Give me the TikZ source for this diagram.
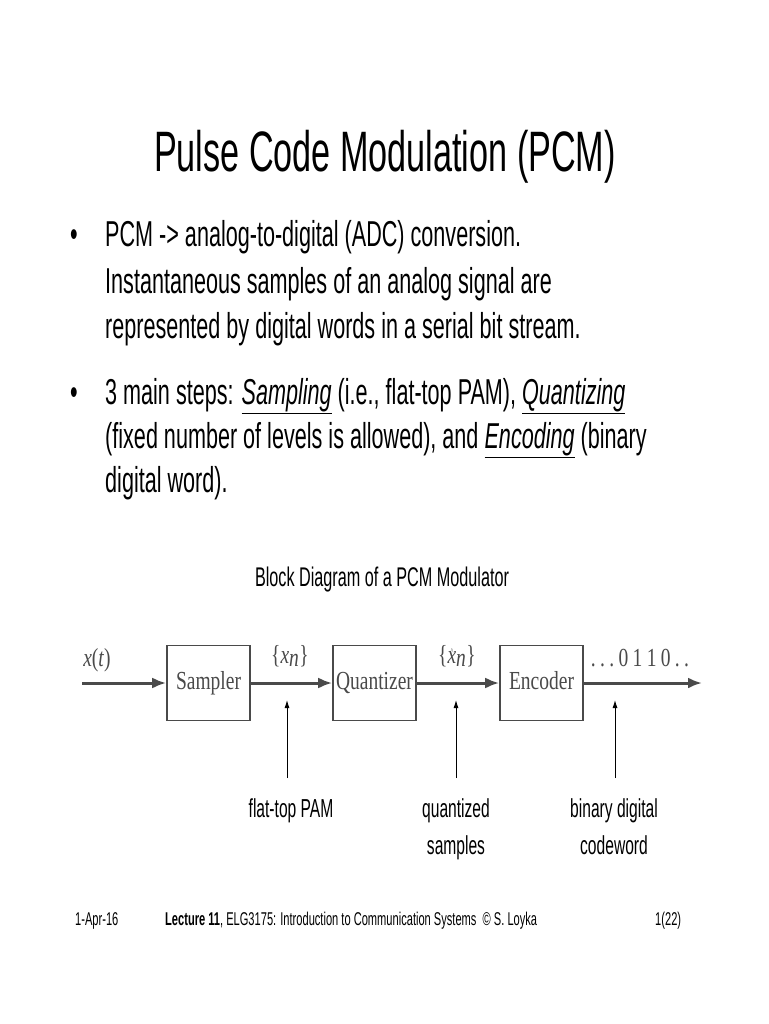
\documentclass[tikz,border=0pt]{standalone}
\usepackage{fontspec}
\setmainfont{Liberation Sans}[FakeStretch=0.6]
\newfontfamily\serf{Liberation Serif}[FakeStretch=0.75]
\usetikzlibrary{arrows.meta}
\definecolor{dg}{HTML}{4a4a4a}
\begin{document}
\begin{tikzpicture}[x=1pt,y=-1pt,
  txt/.style={anchor=base west,inner sep=0pt,font=\fontsize{36}{40}\selectfont},
  blk/.style={draw=dg,line width=1.6pt,minimum width=83pt,minimum height=75pt,inner sep=0pt,text=dg,text height=17pt,text depth=5pt,font=\serf\fontsize{26}{28}\selectfont},
  sig/.style={draw=dg,line width=3pt,-{Latex[length=14pt,width=11pt]}},
  pt/.style={draw=black,line width=0.9pt,-{Latex[length=8pt,width=5pt]}},
  lab/.style={inner sep=0pt,text=dg,font=\serf\fontsize{26}{28}\selectfont},
  capt/.style={inner sep=0pt,align=center,font=\fontsize{26}{37}\selectfont},
  ft/.style={anchor=base west,inner sep=0pt,font=\fontsize{18.5}{20}\selectfont}]
\useasboundingbox[fill=white] (0,0) rectangle (768,1024);
\node[anchor=base,inner sep=0pt,font=\fontsize{57}{60}\selectfont] (title) at (385,172) {Pulse Code Modulation (PCM)};
\node[txt] (b1) at (70,247) {•};
\node[txt] (l1) at (105,247) {PCM -> analog-to-digital (ADC) conversion.};
\node[txt] (l2) at (105,293) {Instantaneous samples of an analog signal are};
\node[txt] (l3) at (105,338) {represented by digital words in a serial bit stream.};
\node[txt] (b2) at (70,404) {•};
\node[txt] (l4) at (105,404) {3 main steps: \underline{\textit{Sampling}} (i.e., flat-top PAM), \underline{\textit{Quantizing}}};
\node[txt] (l5) at (105,448) {(fixed number of levels is allowed), and \underline{\textit{Encoding}} (binary};
\node[txt] (l6) at (105,492) {digital word).};
\node[anchor=base,inner sep=0pt,font=\fontsize{27}{30}\selectfont] (bd) at (382,586) {Block Diagram of a PCM Modulator};
\coordinate (in) at (82,683);
\coordinate (out) at (702,683);
\node[blk] (s) at (208.5,683) {Sampler};
\node[blk] (q) at (374.5,683) {Quantizer};
\node[blk] (e) at (541.5,683) {Encoder};
\draw[sig] (in) -- (s);
\draw[sig] (s) -- (q);
\draw[sig] (q) -- (e);
\draw[sig] (e) -- (out);
\node[lab] (xt) at (97,660) {\textit{x}(\textit{t})};
\node[lab] (xn) at (290,656) {\{\textit{x}$_{\textit{n}}$\}};
\node[lab] (xq) at (457,656) {\{\hbox{\ooalign{\textit{x}\cr\hidewidth\raisebox{9pt}{\small\^{}}\hidewidth\cr}}$_{\textit{n}}$\}};
\node[lab] (bits) at (640,658) {.\,.\,.\,0\,1\,1\,0\,.\,.};
\coordinate (a1) at (287,778); \coordinate (a1t) at (287,700);
\coordinate (a2) at (456,778); \coordinate (a2t) at (456,700);
\coordinate (a3) at (615,778); \coordinate (a3t) at (615,700);
\draw[pt] (a1) -- (a1t);
\draw[pt] (a2) -- (a2t);
\draw[pt] (a3) -- (a3t);
\node[capt,anchor=north] (c1) at (291,798) {flat-top PAM};
\node[capt,anchor=north] (c2) at (456,798) {quantized\\samples};
\node[capt,anchor=north] (c3) at (614,798) {binary digital\\codeword};
\node[ft] (f1) at (75,925) {1-Apr-16};
\node[ft] (f2) at (165,925) {\textbf{Lecture 11}, ELG3175: Introduction to Communication Systems \ © S. Loyka};
\node[ft] (f3) at (655,925) {1(22)};
\end{tikzpicture}
\end{document}
